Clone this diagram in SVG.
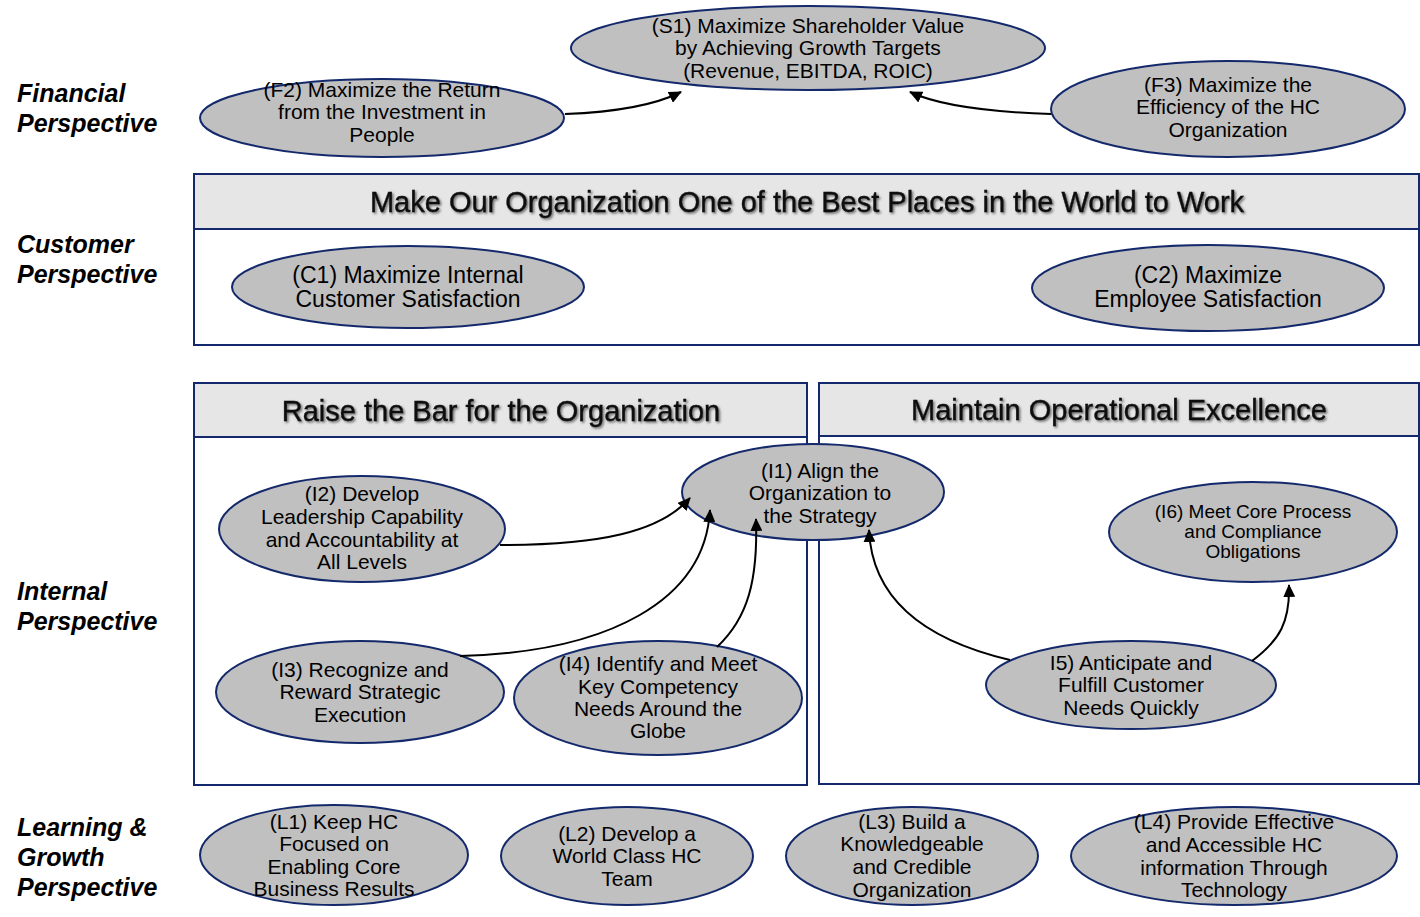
<svg xmlns="http://www.w3.org/2000/svg" width="1420" height="917" viewBox="0 0 1420 917">
<style>
.bg{fill:#ffffff}
.node ellipse{fill:#c0c0c0;stroke:#14296b;stroke-width:2}
.t{font-family:"Liberation Sans",Arial,sans-serif;font-size:21px;fill:#000;text-anchor:middle}
.t23{font-size:23px}
.t19{font-size:19px}
.persp{font-family:"Liberation Sans",Arial,sans-serif;font-size:25px;font-weight:bold;font-style:italic;fill:#000}
.box{fill:#ffffff;stroke:#14296b;stroke-width:2}
.hdr{fill:#e6e6e6;stroke:#14296b;stroke-width:2}
.ht{font-family:"Liberation Sans",Arial,sans-serif;font-size:29px;fill:#111;text-anchor:middle;stroke:#111;stroke-width:0.4;filter:url(#sh)}
.conn path{fill:none;stroke:#000;stroke-width:2;marker-end:url(#ah)}
</style>
<defs>
<marker id="ah" markerUnits="userSpaceOnUse" markerWidth="14" markerHeight="12" refX="12" refY="6" orient="auto">
<path d="M0,0 L13,6 L0,12 Z" fill="#000"/>
</marker>
<filter id="sh" x="-5%" y="-30%" width="110%" height="160%">
<feDropShadow dx="1.5" dy="1.5" stdDeviation="0.8" flood-color="#000" flood-opacity="0.55"/>
</filter>
</defs>
<rect class="bg" x="0" y="0" width="1420" height="917"/>

<g id="labels">
<text class="persp" x="17" y="102">Financial</text>
<text class="persp" x="17" y="132">Perspective</text>
<text class="persp" x="17" y="253">Customer</text>
<text class="persp" x="17" y="283">Perspective</text>
<text class="persp" x="17" y="600">Internal</text>
<text class="persp" x="17" y="630">Perspective</text>
<text class="persp" x="17" y="836">Learning &amp;</text>
<text class="persp" x="17" y="866">Growth</text>
<text class="persp" x="17" y="896">Perspective</text>
</g>

<g id="customer-box">
<rect class="box" x="194" y="174" width="1225" height="171"/>
<rect class="hdr" x="194" y="174" width="1225" height="55"/>
<text class="ht" x="807" y="212">Make Our Organization One of the Best Places in the World to Work</text>
</g>
<g id="raise-box">
<rect class="box" x="194" y="383" width="613" height="402"/>
<rect class="hdr" x="194" y="383" width="613" height="54"/>
<text class="ht" x="501" y="421">Raise the Bar for the Organization</text>
</g>
<g id="maintain-box">
<rect class="box" x="819" y="383" width="600" height="401"/>
<rect class="hdr" x="819" y="383" width="600" height="53"/>
<text class="ht" x="1119" y="420">Maintain Operational Excellence</text>
</g>

<g id="S1" class="node"><ellipse cx="808" cy="48" rx="237" ry="42"/>
<text class="t" x="808" y="33">(S1) Maximize Shareholder Value</text>
<text class="t" x="808" y="55">by Achieving Growth Targets</text>
<text class="t" x="808" y="78">(Revenue, EBITDA, ROIC)</text></g>

<g id="F2" class="node"><ellipse cx="382" cy="118" rx="182" ry="39"/>
<text class="t" x="382" y="97">(F2) Maximize the Return</text>
<text class="t" x="382" y="119">from the Investment in</text>
<text class="t" x="382" y="142">People</text></g>

<g id="F3" class="node"><ellipse cx="1228" cy="109" rx="177" ry="48"/>
<text class="t" x="1228" y="92">(F3) Maximize the</text>
<text class="t" x="1228" y="114">Efficiency of the HC</text>
<text class="t" x="1228" y="137">Organization</text></g>

<g id="C1" class="node"><ellipse cx="408" cy="287" rx="176" ry="41"/>
<text class="t t23" x="408" y="283">(C1) Maximize Internal</text>
<text class="t t23" x="408" y="307">Customer Satisfaction</text></g>

<g id="C2" class="node"><ellipse cx="1208" cy="288" rx="176" ry="43"/>
<text class="t t23" x="1208" y="283">(C2) Maximize</text>
<text class="t t23" x="1208" y="307">Employee Satisfaction</text></g>

<g id="I1" class="node"><ellipse cx="813" cy="492" rx="131" ry="48"/>
<text class="t" x="820" y="478">(I1) Align the</text>
<text class="t" x="820" y="500">Organization to</text>
<text class="t" x="820" y="523">the Strategy</text></g>

<g id="I2" class="node"><ellipse cx="362" cy="529" rx="143" ry="53"/>
<text class="t" x="362" y="501">(I2) Develop</text>
<text class="t" x="362" y="524">Leadership Capability</text>
<text class="t" x="362" y="547">and Accountability at</text>
<text class="t" x="362" y="569">All Levels</text></g>

<g id="I6" class="node"><ellipse cx="1253" cy="532" rx="144" ry="50"/>
<text class="t t19" x="1253" y="518">(I6) Meet Core Process</text>
<text class="t t19" x="1253" y="538">and Compliance</text>
<text class="t t19" x="1253" y="558">Obligations</text></g>

<g id="I3" class="node"><ellipse cx="360" cy="692" rx="144" ry="51"/>
<text class="t" x="360" y="677">(I3) Recognize and</text>
<text class="t" x="360" y="699">Reward Strategic</text>
<text class="t" x="360" y="722">Execution</text></g>

<g id="I4" class="node"><ellipse cx="658" cy="698" rx="144" ry="57"/>
<text class="t" x="658" y="671">(I4) Identify and Meet</text>
<text class="t" x="658" y="694">Key Competency</text>
<text class="t" x="658" y="716">Needs Around the</text>
<text class="t" x="658" y="738">Globe</text></g>

<g id="I5" class="node"><ellipse cx="1131" cy="685" rx="145" ry="44"/>
<text class="t" x="1131" y="670">I5) Anticipate and</text>
<text class="t" x="1131" y="692">Fulfill Customer</text>
<text class="t" x="1131" y="715">Needs Quickly</text></g>

<g id="L1" class="node"><ellipse cx="334" cy="855" rx="134" ry="50"/>
<text class="t" x="334" y="829">(L1) Keep HC</text>
<text class="t" x="334" y="851">Focused on</text>
<text class="t" x="334" y="874">Enabling Core</text>
<text class="t" x="334" y="896">Business Results</text></g>

<g id="L2" class="node"><ellipse cx="627" cy="856" rx="126" ry="49"/>
<text class="t" x="627" y="841">(L2) Develop a</text>
<text class="t" x="627" y="863">World Class HC</text>
<text class="t" x="627" y="886">Team</text></g>

<g id="L3" class="node"><ellipse cx="912" cy="856" rx="126" ry="49"/>
<text class="t" x="912" y="829">(L3) Build a</text>
<text class="t" x="912" y="851">Knowledgeable</text>
<text class="t" x="912" y="874">and Credible</text>
<text class="t" x="912" y="897">Organization</text></g>

<g id="L4" class="node"><ellipse cx="1234" cy="856" rx="163" ry="49"/>
<text class="t" x="1234" y="829">(L4) Provide Effective</text>
<text class="t" x="1234" y="852">and Accessible HC</text>
<text class="t" x="1234" y="875">information Through</text>
<text class="t" x="1234" y="897">Technology</text></g>

<g id="connectors" class="conn">
<path d="M565,114 C620,112 655,105 681,92"/>
<path d="M1051,114 C990,112 940,106 910,92"/>
<path d="M500,545 C600,545 660,532 690,498"/>
<path d="M460,656 C610,652 705,600 710,510"/>
<path d="M717,647 C748,618 758,580 756,519"/>
<path d="M1010,660 C925,640 872,600 869,530"/>
<path d="M1252,661 C1280,640 1290,622 1289,585"/>
</g>
</svg>
